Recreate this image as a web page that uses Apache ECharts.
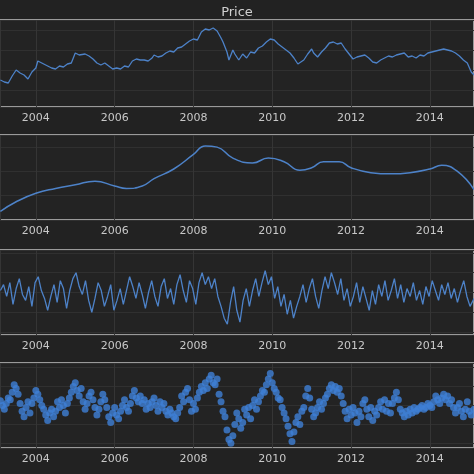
<!DOCTYPE html>
<html><head><meta charset="utf-8">
<script src="https://cdn.jsdelivr.net/npm/echarts@6/dist/echarts.min.js"></script>
<style>html,body{margin:0;background:#222;}#c{width:474px;height:474px;}</style>
</head><body><div id="c"></div>
<script>
const yearTicks=[2004,2006,2008,2010,2012,2014];
const price=[[2003.1,30],[2003.2,28],[2003.3,27],[2003.4,34],[2003.5,40],[2003.6,37],[2003.7,35],[2003.8,31],[2003.9,38],[2004.0,42],[2004.05,49],[2004.15,47],[2004.3,44],[2004.4,42],[2004.5,41],[2004.6,44],[2004.7,43],[2004.8,46],[2004.9,47],[2004.95,52],[2005.0,57],[2005.1,55],[2005.15,53],[2005.25,56],[2005.35,54],[2005.45,51],[2005.55,47],[2005.65,45],[2005.75,47],[2005.85,44],[2005.95,41],[2006.05,42],[2006.15,41],[2006.25,44],[2006.35,43],[2006.45,49],[2006.55,51],[2006.65,50],[2006.75,50],[2006.85,49],[2006.95,52],[2007.0,55],[2007.1,53],[2007.2,54],[2007.3,57],[2007.4,59],[2007.5,58],[2007.6,62],[2007.7,63],[2007.8,66],[2007.9,69],[2008.0,71],[2008.1,70],[2008.2,78],[2008.3,81],[2008.4,80],[2008.5,82],[2008.6,79],[2008.7,72],[2008.75,68],[2008.85,58],[2008.9,50],[2009.0,60],[2009.05,56],[2009.15,50],[2009.25,56],[2009.35,52],[2009.45,58],[2009.55,57],[2009.65,62],[2009.75,64],[2009.85,68],[2009.95,71],[2010.05,70],[2010.15,66],[2010.25,63],[2010.35,60],[2010.45,57],[2010.55,52],[2010.65,46],[2010.7,44],[2010.8,50],[2010.9,56],[2011.0,61],[2011.05,57],[2011.15,53],[2011.25,58],[2011.35,62],[2011.45,67],[2011.55,68],[2011.65,66],[2011.75,67],[2011.85,61],[2011.95,56],[2012.05,51],[2012.15,53],[2012.25,54],[2012.35,55],[2012.45,52],[2012.55,48],[2012.65,47],[2012.75,50],[2012.85,52],[2012.95,54],[2013.05,53],[2013.15,55],[2013.25,56],[2013.35,57],[2013.45,53],[2013.55,54],[2013.65,52],[2013.75,55],[2013.85,54],[2013.95,57],[2014.05,58],[2014.15,59],[2014.25,60],[2014.35,61],[2014.45,60],[2014.55,59],[2014.65,57],[2014.75,54],[2014.85,50],[2014.95,47],[2015.05,38],[2015.12,35]];
const trend=[[2003.1,27],[2003.5,35],[2004.0,42],[2004.5,46],[2005.0,49],[2005.5,52],[2006.0,48],[2006.3,46],[2006.7,48],[2007.0,54],[2007.5,62],[2008.0,74],[2008.3,81],[2008.6,80],[2009.0,71],[2009.5,67],[2009.9,71],[2010.3,68],[2010.7,61],[2011.0,63],[2011.3,68],[2011.7,68],[2012.0,63],[2012.5,59],[2013.0,58],[2013.5,59],[2014.0,62],[2014.3,65],[2014.7,60],[2015.12,45]];
const cycle=[[2003.1,2],[2003.18,8],[2003.26,-4],[2003.34,10],[2003.42,-12],[2003.5,4],[2003.58,14],[2003.66,-2],[2003.74,-8],[2003.82,6],[2003.9,-14],[2003.98,10],[2004.06,16],[2004.14,2],[2004.22,-6],[2004.3,-18],[2004.38,-4],[2004.46,8],[2004.54,-10],[2004.62,12],[2004.7,4],[2004.78,-16],[2004.86,2],[2004.94,14],[2005.02,20],[2005.1,6],[2005.18,-2],[2005.26,12],[2005.34,-8],[2005.42,-20],[2005.5,-6],[2005.58,10],[2005.66,2],[2005.74,-14],[2005.82,-4],[2005.9,8],[2005.98,-18],[2006.06,-8],[2006.14,4],[2006.22,-12],[2006.3,2],[2006.38,16],[2006.46,6],[2006.54,-6],[2006.62,10],[2006.7,-2],[2006.78,-16],[2006.86,0],[2006.94,12],[2007.02,-4],[2007.1,-14],[2007.18,6],[2007.26,14],[2007.34,-6],[2007.42,4],[2007.5,-12],[2007.58,8],[2007.66,18],[2007.74,2],[2007.82,-10],[2007.9,12],[2007.98,4],[2008.06,-12],[2008.14,10],[2008.22,20],[2008.3,8],[2008.38,16],[2008.46,4],[2008.54,14],[2008.62,-4],[2008.7,-14],[2008.78,-26],[2008.86,-32],[2008.94,-10],[2009.02,6],[2009.1,-18],[2009.18,-30],[2009.26,-8],[2009.34,4],[2009.42,-14],[2009.5,2],[2009.58,14],[2009.66,-4],[2009.74,10],[2009.82,22],[2009.9,8],[2009.98,16],[2010.06,-6],[2010.14,6],[2010.22,-14],[2010.3,-2],[2010.38,-22],[2010.46,-8],[2010.54,-26],[2010.62,-14],[2010.7,-4],[2010.78,8],[2010.86,-10],[2010.94,4],[2011.02,14],[2011.1,-4],[2011.18,-16],[2011.26,2],[2011.34,16],[2011.42,4],[2011.5,20],[2011.58,10],[2011.66,-2],[2011.74,14],[2011.82,-8],[2011.9,4],[2011.98,-14],[2012.06,-4],[2012.14,10],[2012.22,-10],[2012.3,6],[2012.38,-6],[2012.46,-18],[2012.54,2],[2012.62,-12],[2012.7,8],[2012.78,-4],[2012.86,12],[2012.94,-8],[2013.02,2],[2013.1,14],[2013.18,-6],[2013.26,8],[2013.34,-10],[2013.42,4],[2013.5,-4],[2013.58,10],[2013.66,-8],[2013.74,2],[2013.82,-12],[2013.9,6],[2013.98,-4],[2014.06,12],[2014.14,2],[2014.22,-8],[2014.3,8],[2014.38,-2],[2014.46,10],[2014.54,-6],[2014.62,4],[2014.7,-10],[2014.78,2],[2014.86,12],[2014.94,-4],[2015.02,-14],[2015.12,-6]];
const osc=[[2003.1,5],[2003.15,0],[2003.2,-4],[2003.25,2],[2003.3,8],[2003.35,6],[2003.4,14],[2003.45,22],[2003.5,18],[2003.55,12],[2003.6,2],[2003.65,-6],[2003.7,-12],[2003.75,-2],[2003.8,4],[2003.85,-8],[2003.9,2],[2003.95,8],[2004.0,16],[2004.05,12],[2004.1,6],[2004.15,0],[2004.2,-4],[2004.25,-10],[2004.3,-16],[2004.35,-8],[2004.4,-4],[2004.45,-12],[2004.5,-6],[2004.55,4],[2004.6,-2],[2004.65,6],[2004.7,0],[2004.75,-8],[2004.8,2],[2004.85,8],[2004.9,14],[2004.95,20],[2005.0,24],[2005.05,16],[2005.1,10],[2005.15,18],[2005.2,4],[2005.25,-4],[2005.3,2],[2005.35,10],[2005.4,14],[2005.45,6],[2005.5,-2],[2005.55,-10],[2005.6,-4],[2005.65,4],[2005.7,12],[2005.75,6],[2005.8,-2],[2005.85,-12],[2005.9,-18],[2005.95,-8],[2006.0,-2],[2006.05,-10],[2006.1,-14],[2006.15,-6],[2006.2,0],[2006.25,6],[2006.3,-2],[2006.35,-6],[2006.4,2],[2006.45,10],[2006.5,16],[2006.55,8],[2006.6,4],[2006.65,10],[2006.7,2],[2006.75,6],[2006.8,-4],[2006.85,2],[2006.9,-2],[2006.95,4],[2007.0,8],[2007.05,0],[2007.1,-6],[2007.15,4],[2007.2,-2],[2007.25,2],[2007.3,-6],[2007.35,-10],[2007.4,-4],[2007.45,-8],[2007.5,-12],[2007.55,-14],[2007.6,-8],[2007.65,-2],[2007.7,10],[2007.75,4],[2007.8,14],[2007.85,18],[2007.9,6],[2007.95,-6],[2008.0,2],[2008.05,-4],[2008.1,8],[2008.15,14],[2008.2,20],[2008.25,16],[2008.3,24],[2008.35,18],[2008.4,28],[2008.45,32],[2008.5,24],[2008.55,22],[2008.6,28],[2008.65,12],[2008.7,4],[2008.75,-6],[2008.8,-12],[2008.85,-26],[2008.9,-36],[2008.95,-40],[2009.0,-32],[2009.05,-20],[2009.1,-8],[2009.15,-14],[2009.2,-24],[2009.25,-18],[2009.3,-4],[2009.35,-10],[2009.4,-2],[2009.45,-14],[2009.5,0],[2009.55,6],[2009.6,-4],[2009.65,4],[2009.7,10],[2009.75,16],[2009.8,14],[2009.85,22],[2009.9,28],[2009.95,34],[2010.0,24],[2010.05,18],[2010.1,14],[2010.15,8],[2010.2,6],[2010.25,-2],[2010.3,-8],[2010.35,-14],[2010.4,-22],[2010.45,-30],[2010.5,-38],[2010.55,-28],[2010.6,-18],[2010.65,-12],[2010.7,-20],[2010.75,-6],[2010.8,-2],[2010.85,10],[2010.9,18],[2010.95,8],[2011.0,-4],[2011.05,-12],[2011.1,-8],[2011.15,-2],[2011.2,4],[2011.25,-4],[2011.3,2],[2011.35,8],[2011.4,12],[2011.45,18],[2011.5,22],[2011.55,16],[2011.6,20],[2011.65,14],[2011.7,18],[2011.75,10],[2011.8,2],[2011.85,-6],[2011.9,-14],[2011.95,-4],[2012.0,-10],[2012.05,-2],[2012.1,-8],[2012.15,-18],[2012.2,-6],[2012.25,-12],[2012.3,2],[2012.35,6],[2012.4,-4],[2012.45,-12],[2012.5,-2],[2012.55,-16],[2012.6,-6],[2012.65,-10],[2012.7,-2],[2012.75,4],[2012.8,-4],[2012.85,6],[2012.9,-6],[2012.95,2],[2013.0,-8],[2013.05,2],[2013.1,8],[2013.15,14],[2013.2,6],[2013.25,-4],[2013.3,-8],[2013.35,-12],[2013.4,-6],[2013.45,-10],[2013.5,-4],[2013.55,-8],[2013.6,-2],[2013.65,-6],[2013.7,-4],[2013.75,-2],[2013.8,0],[2013.85,-4],[2013.9,-2],[2013.95,2],[2014.0,0],[2014.05,-2],[2014.1,4],[2014.15,10],[2014.2,6],[2014.25,2],[2014.3,8],[2014.35,12],[2014.4,6],[2014.45,10],[2014.5,2],[2014.55,6],[2014.6,-2],[2014.65,-8],[2014.7,-2],[2014.75,2],[2014.8,-6],[2014.85,-12],[2014.9,-4],[2014.95,4],[2015.0,-6],[2015.05,-10],[2015.12,-4]];
const panels=[{top:20,h:87},{top:135,h:85},{top:250,h:85},{top:363,h:85}];
const gridStyle={show:true,borderColor:'#9a9a9a',borderWidth:2,backgroundColor:'#232323'};
const grids=panels.map(p=>Object.assign({left:0,right:0,top:p.top,height:p.h},gridStyle));
const xAxes=panels.map((p,i)=>({gridIndex:i,type:'value',min:2003.09,max:2015.12,
  axisLine:{show:false},axisTick:{show:false},
  axisLabel:{customValues:yearTicks,formatter:v=>String(v),color:'#c8c8c8',fontSize:11,fontFamily:'DejaVu Sans',margin:6},
  splitLine:{show:true,lineStyle:{color:'#353535'}}}));
const yr=[[3,90],[20,90],[-43,43],[-45,45]];
const yAxes=yr.map((r,i)=>({gridIndex:i,type:'value',min:r[0],max:r[1],splitNumber:4,
  axisLine:{show:false},axisTick:{show:false},axisLabel:{show:false},
  splitLine:{show:true,lineStyle:{color:'#303030'}}}));
const lc='#4d82c8';
const chart=echarts.init(document.getElementById('c'));
chart.setOption({backgroundColor:'#222',animation:false,
 title:{text:'Price',left:'center',top:1,textStyle:{color:'#d0d0d0',fontSize:13,fontWeight:'normal',fontFamily:'DejaVu Sans'}},
 grid:grids,xAxis:xAxes,yAxis:yAxes,
 series:[
  {type:'line',xAxisIndex:0,yAxisIndex:0,data:price,showSymbol:false,lineStyle:{color:lc,width:1.3}},
  {type:'line',xAxisIndex:1,yAxisIndex:1,data:trend,smooth:true,showSymbol:false,lineStyle:{color:lc,width:1.5}},
  {type:'line',xAxisIndex:2,yAxisIndex:2,data:cycle,showSymbol:false,lineStyle:{color:lc,width:1.3}},
  {type:'scatter',xAxisIndex:3,yAxisIndex:3,data:osc,symbolSize:7,itemStyle:{color:'#3f7fd6'}}
 ]});
</script></body></html>
